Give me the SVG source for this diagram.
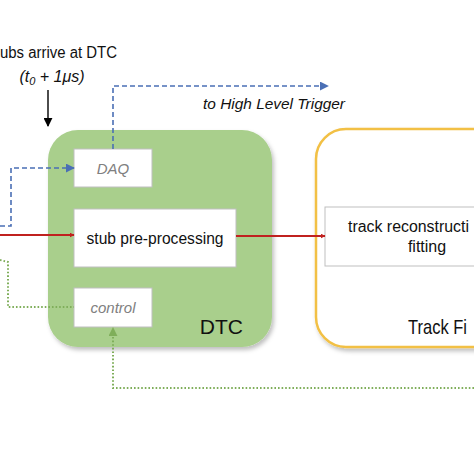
<svg xmlns="http://www.w3.org/2000/svg" width="474" height="474" viewBox="0 0 474 474">
  <defs>
    <filter id="sh" x="-10%" y="-10%" width="130%" height="130%">
      <feDropShadow dx="2" dy="3" stdDeviation="2" flood-color="#000" flood-opacity="0.25"/>
    </filter>
    <marker id="ahRed" viewBox="0 0 10 10" refX="9" refY="5" markerWidth="5" markerHeight="5" orient="auto" markerUnits="userSpaceOnUse">
      <path d="M0,0 L10,5 L0,10 z" fill="#C0211F"/>
    </marker>
    <marker id="ahBlue" viewBox="0 0 10 10" refX="9" refY="5" markerWidth="9" markerHeight="9" orient="auto" markerUnits="userSpaceOnUse">
      <path d="M0,0 L10,5 L0,10 z" fill="#4A6FB5"/>
    </marker>
    <marker id="ahGreen" viewBox="0 0 10 10" refX="9" refY="5" markerWidth="9" markerHeight="9" orient="auto" markerUnits="userSpaceOnUse">
      <path d="M0,0 L10,5 L0,10 z" fill="#7FAE5A"/>
    </marker>
    <marker id="ahBlack" viewBox="0 0 10 10" refX="9" refY="5" markerWidth="9" markerHeight="9" orient="auto" markerUnits="userSpaceOnUse">
      <path d="M0,0 L10,5 L0,10 z" fill="#000"/>
    </marker>
  </defs>
  <style>
    text { font-family: "Liberation Sans", "Open Sans", sans-serif; }
    .lbl { font-size: 16px; fill: #111111; }
    .big { font-size: 21px; fill: #111111; }
    .sub { font-size: 15px; font-style: italic; fill: #808080; }
    .it { font-size: 15px; font-style: italic; fill: #111111; }
    .box { fill: #ffffff; stroke: #BFBFBF; stroke-width: 1; }
    .red { stroke: #C0211F; stroke-width: 1.8; fill: none; }
    .blue { stroke: #4A6FB5; stroke-width: 1.6; fill: none; stroke-dasharray: 5 3; }
    .green { stroke: #7FAE5A; stroke-width: 2; fill: none; stroke-dasharray: 1.6 2; }
  </style>
  <rect width="474" height="474" fill="#ffffff"/>

  <g id="header">
    <text class="lbl" x="117" y="58" text-anchor="end" textLength="117" lengthAdjust="spacingAndGlyphs">ubs arrive at DTC</text>
    <text class="lbl" x="52" y="82" text-anchor="middle" font-style="italic">(t<tspan font-size="11" dy="3">0</tspan><tspan dy="-3"> + 1μs)</tspan></text>
    <text class="it" x="203" y="109" textLength="142" lengthAdjust="spacingAndGlyphs">to High Level Trigger</text>
  </g>

  <g id="dtc">
    <rect x="48" y="130" width="224" height="217" rx="30" ry="30" fill="#A9CF8C" filter="url(#sh)"/>
    <text class="big" x="243" y="334" text-anchor="end">DTC</text>
  </g>
  <g id="daq">
    <rect class="box" x="74" y="149" width="78" height="38"/>
    <text class="sub" x="113" y="174" text-anchor="middle">DAQ</text>
  </g>
  <g id="stub">
    <rect class="box" x="74" y="209" width="162" height="58"/>
    <text class="lbl" x="155" y="244" text-anchor="middle" textLength="137" lengthAdjust="spacingAndGlyphs">stub pre-processing</text>
  </g>
  <g id="control">
    <rect class="box" x="74" y="288" width="78" height="39"/>
    <text class="sub" x="113" y="313" text-anchor="middle">control</text>
  </g>

  <g id="trackfinder">
    <rect x="316" y="129" width="200" height="218" rx="30" ry="30" fill="#ffffff" stroke="#F2C044" stroke-width="2.5" filter="url(#sh)"/>
    <text class="big" x="408" y="334" textLength="59" lengthAdjust="spacingAndGlyphs">Track Fi</text>
  </g>
  <g id="trackreco">
    <rect class="box" x="325" y="207" width="200" height="59"/>
    <text class="lbl" x="348" y="232" textLength="121" lengthAdjust="spacingAndGlyphs">track reconstructi</text>
    <text class="lbl" x="427" y="252" text-anchor="middle">fitting</text>
  </g>

  <g id="connectors">
    <line x1="48" y1="90" x2="48" y2="126" stroke="#000" stroke-width="1.4" marker-end="url(#ahBlack)"/>
    <line class="red" x1="0" y1="235" x2="74" y2="235" marker-end="url(#ahRed)"/>
    <line class="red" x1="236" y1="236" x2="325" y2="236" marker-end="url(#ahRed)"/>
    <path class="blue" d="M113,149 V86 H328" marker-end="url(#ahBlue)"/>
    <path class="blue" d="M0,226 H11 V168 H74" marker-end="url(#ahBlue)"/>
    <path class="green" d="M0,260 L8,262 V307 H74"/>
    <path class="green" d="M474,388 H113 V328" marker-end="url(#ahGreen)"/>
  </g>
</svg>
